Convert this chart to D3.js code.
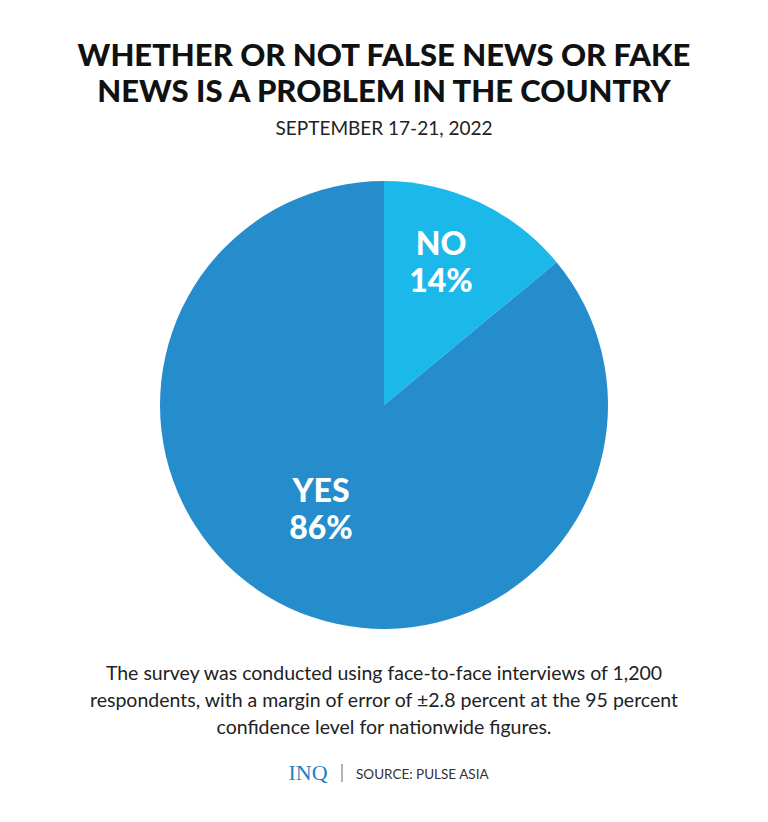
<!DOCTYPE html>
<html><head><meta charset="utf-8">
<script src="https://cdn.jsdelivr.net/npm/d3@7"></script>
<style>body{margin:0;background:#fff;font-family:Lato,sans-serif}</style>
</head><body>
<svg id="chart" width="768" height="822"></svg>
<script>
const labels = ["NO", "YES"];
const values = [14, 86];
const colors = ["#1bb9ea", "#268dcd"];

const svg = d3.select("#chart");
svg.append("rect").attr("width", 768).attr("height", 822).attr("fill", "#fff");

const title = ["WHETHER OR NOT FALSE NEWS OR FAKE", "NEWS IS A PROBLEM IN THE COUNTRY"];
svg.selectAll(".t").data(title).enter().append("text")
  .attr("x", 384).attr("y", (d, i) => 66 + i * 36)
  .attr("text-anchor", "middle").attr("font-size", 31).attr("font-weight", 900)
  .attr("fill", "#111").text(d => d);
svg.append("text").attr("x", 384).attr("y", 135).attr("text-anchor", "middle")
  .attr("font-size", 19).attr("fill", "#222").text("SEPTEMBER 17-21, 2022");

const g = svg.append("g").attr("transform", "translate(384,405)");
const pie = d3.pie().sort(null)(values);
const arc = d3.arc().innerRadius(0).outerRadius(224);
g.selectAll("path").data(pie).enter().append("path")
  .attr("d", arc).attr("fill", (d, i) => colors[i]);

const lab = [[57, -150], [-63, 97]];
pie.forEach((d, i) => {
  const t = g.append("text").attr("text-anchor", "middle").attr("fill", "#fff")
    .attr("font-size", 32).attr("font-weight", 900);
  t.append("tspan").attr("x", lab[i][0]).attr("y", lab[i][1]).text(labels[i]);
  t.append("tspan").attr("x", lab[i][0]).attr("y", lab[i][1] + 37).text(values[i] + "%");
});

const note = ["The survey was conducted using face-to-face interviews of 1,200",
  "respondents, with a margin of error of ±2.8 percent at the 95 percent",
  "confidence level for nationwide figures."];
svg.selectAll(".n").data(note).enter().append("text")
  .attr("x", 384).attr("y", (d, i) => 680 + i * 27).attr("text-anchor", "middle")
  .attr("font-size", 19.5).attr("fill", "#222").text(d => d);

svg.append("text").attr("x", 308).attr("y", 780).attr("text-anchor", "middle")
  .attr("font-family", "Liberation Serif, serif").attr("font-size", 22).attr("fill", "#1f7fc0").text("INQ");
svg.append("line").attr("x1", 342).attr("x2", 342).attr("y1", 764).attr("y2", 782)
  .attr("stroke", "#666").attr("stroke-width", 1);
svg.append("text").attr("x", 356).attr("y", 779).attr("font-size", 13.5).attr("fill", "#333")
  .text("SOURCE: PULSE ASIA");
</script>
</body></html>
